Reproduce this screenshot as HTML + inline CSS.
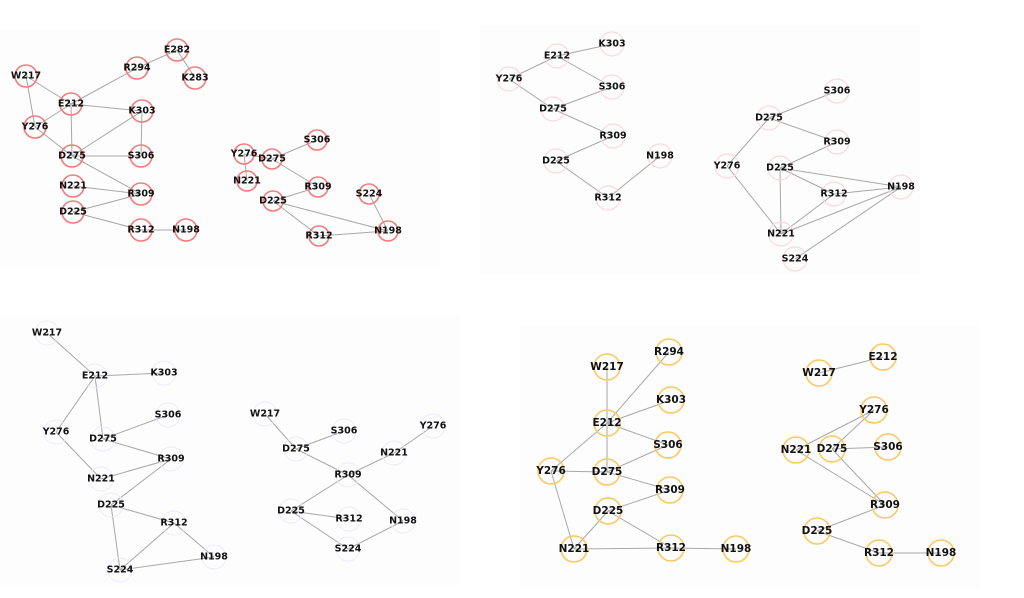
<!DOCTYPE html>
<html><head><meta charset="utf-8"><style>
html,body{margin:0;padding:0;background:#fff}
svg{display:block}
text{font-family:"DejaVu Sans","Liberation Sans",sans-serif;font-weight:bold;font-size:9.5px;fill:#111;text-anchor:middle;dominant-baseline:central}
</style></head><body>
<svg id="s" width="1024" height="598" viewBox="0 0 1024 598">
<rect x="0" y="30" width="440" height="240" fill="#fdfdfd"/>
<rect x="480" y="25" width="440" height="250" fill="#fdfdfd"/>
<rect x="0" y="315" width="460" height="270" fill="#fdfdfd"/>
<rect x="520" y="325" width="460" height="265" fill="#fdfdfd"/>
<g id="edges"></g><g id="circles"></g>
<g id="labels">
<text id="a-W217" x="26" y="76">W217</text>
<text id="a-E282" x="177" y="50">E282</text>
<text id="a-R294" x="137" y="68">R294</text>
<text id="a-K283" x="195" y="78">K283</text>
<text id="a-E212" x="71" y="104">E212</text>
<text id="a-K303" x="142" y="111">K303</text>
<text id="a-Y276" x="35" y="127">Y276</text>
<text id="a-D275" x="72" y="156">D275</text>
<text id="a-S306" x="141" y="156">S306</text>
<text id="a-N221" x="73" y="186">N221</text>
<text id="a-R309" x="141" y="194">R309</text>
<text id="a-D225" x="73" y="212">D225</text>
<text id="a-R312" x="141" y="230">R312</text>
<text id="a-N198" x="186" y="230">N198</text>
<text id="b-Y276" x="244" y="154">Y276</text>
<text id="b-D275" x="272" y="159">D275</text>
<text id="b-S306" x="317" y="140">S306</text>
<text id="b-N221" x="247" y="181">N221</text>
<text id="b-R309" x="318" y="187">R309</text>
<text id="b-D225" x="273" y="201">D225</text>
<text id="b-S224" x="369" y="194">S224</text>
<text id="b-R312" x="319" y="236">R312</text>
<text id="b-N198" x="388" y="231">N198</text>
<text id="c-E212" x="557" y="56">E212</text>
<text id="c-K303" x="612" y="44">K303</text>
<text id="c-Y276" x="509" y="79">Y276</text>
<text id="c-S306" x="612" y="87">S306</text>
<text id="c-D275" x="553" y="109">D275</text>
<text id="c-R309" x="613" y="136">R309</text>
<text id="c-D225" x="556" y="161">D225</text>
<text id="c-N198" x="660" y="156">N198</text>
<text id="c-R312" x="608" y="198">R312</text>
<text id="d-S306" x="837" y="91">S306</text>
<text id="d-D275" x="769" y="118">D275</text>
<text id="d-R309" x="837" y="142">R309</text>
<text id="d-Y276" x="727" y="166">Y276</text>
<text id="d-D225" x="780" y="168">D225</text>
<text id="d-N198" x="901" y="187">N198</text>
<text id="d-R312" x="834" y="194">R312</text>
<text id="d-N221" x="781" y="234">N221</text>
<text id="d-S224" x="795" y="259">S224</text>
<text id="e-W217" x="47" y="333">W217</text>
<text id="e-E212" x="95" y="376">E212</text>
<text id="e-K303" x="164" y="373">K303</text>
<text id="e-S306" x="168" y="415">S306</text>
<text id="e-Y276" x="56" y="432">Y276</text>
<text id="e-D275" x="103" y="439">D275</text>
<text id="e-R309" x="171" y="459">R309</text>
<text id="e-N221" x="101" y="479">N221</text>
<text id="e-D225" x="111" y="505">D225</text>
<text id="e-R312" x="174" y="523">R312</text>
<text id="e-N198" x="214" y="557">N198</text>
<text id="e-S224" x="120" y="570">S224</text>
<text id="f-W217" x="265" y="414">W217</text>
<text id="f-S306" x="344" y="431">S306</text>
<text id="f-Y276" x="433" y="426">Y276</text>
<text id="f-D275" x="296" y="449">D275</text>
<text id="f-N221" x="394" y="453">N221</text>
<text id="f-R309" x="348" y="475">R309</text>
<text id="f-D225" x="291" y="511">D225</text>
<text id="f-R312" x="349" y="519">R312</text>
<text id="f-N198" x="403" y="521">N198</text>
<text id="f-S224" x="348" y="549">S224</text>
<text id="g-W217" x="607" y="367" style="font-size:10.5px">W217</text>
<text id="g-R294" x="669" y="352" style="font-size:10.5px">R294</text>
<text id="g-K303" x="671" y="400" style="font-size:10.5px">K303</text>
<text id="g-E212" x="607" y="423" style="font-size:10.5px">E212</text>
<text id="g-S306" x="668" y="445" style="font-size:10.5px">S306</text>
<text id="g-Y276" x="551" y="471" style="font-size:10.5px">Y276</text>
<text id="g-D275" x="607" y="472" style="font-size:10.5px">D275</text>
<text id="g-R309" x="670" y="490" style="font-size:10.5px">R309</text>
<text id="g-D225" x="608" y="511" style="font-size:10.5px">D225</text>
<text id="g-N221" x="574" y="549" style="font-size:10.5px">N221</text>
<text id="g-R312" x="671" y="548" style="font-size:10.5px">R312</text>
<text id="g-N198" x="736" y="549" style="font-size:10.5px">N198</text>
<text id="h-E212" x="883" y="357" style="font-size:10.5px">E212</text>
<text id="h-W217" x="819" y="373" style="font-size:10.5px">W217</text>
<text id="h-Y276" x="874" y="410" style="font-size:10.5px">Y276</text>
<text id="h-N221" x="796" y="450" style="font-size:10.5px">N221</text>
<text id="h-D275" x="832" y="449" style="font-size:10.5px">D275</text>
<text id="h-S306" x="888" y="447" style="font-size:10.5px">S306</text>
<text id="h-R309" x="885" y="505" style="font-size:10.5px">R309</text>
<text id="h-D225" x="817" y="531" style="font-size:10.5px">D225</text>
<text id="h-R312" x="879" y="553" style="font-size:10.5px">R312</text>
<text id="h-N198" x="941" y="553" style="font-size:10.5px">N198</text>
</g>
</svg>
<script>
var P={
a:{r:11,c:"#f47a7a",w:1.6,e:"W217-E212 W217-Y276 E212-R294 R294-E282 E282-K283 E212-K303 E212-Y276 E212-D275 Y276-D275 D275-K303 D275-S306 K303-S306 D275-R309 N221-R309 D225-R309 D225-R312 R312-N198"},
b:{r:10,c:"#f47a7a",w:1.6,e:"Y276-D275 Y276-N221 D275-S306 D275-R309 R309-D225 D225-N198 D225-R312 R312-N198 S224-N198"},
c:{r:12,c:"#fbd9de",w:1.2,e:"E212-K303 E212-Y276 E212-S306 Y276-D275 D275-S306 D275-R309 R309-D225 D225-R312 R312-N198"},
d:{r:12,c:"#fbd9de",w:1.2,e:"D275-S306 D275-R309 D275-Y276 Y276-N221 R309-D225 D225-N198 D225-R312 D225-N221 R312-N198 R312-N221 N221-N198 N198-S224"},
e:{r:12,c:"#ececfb",w:1,e:"W217-E212 E212-K303 E212-Y276 E212-D275 D275-S306 D275-R309 Y276-N221 N221-R309 R309-D225 D225-R312 D225-S224 R312-S224 R312-N198 S224-N198"},
f:{r:12,c:"#ececfb",w:1,e:"W217-D275 D275-S306 D275-R309 R309-N221 N221-Y276 R309-D225 R309-N198 D225-R312 D225-S224 S224-N198"},
g:{r:13,c:"#fcc862",w:1.6,e:"W217-E212 E212-D275 E212-R294 E212-K303 E212-S306 E212-Y276 Y276-D275 Y276-N221 D275-S306 D275-R309 D225-R309 D225-N221 D225-R312 N221-R312 R312-N198"},
h:{r:13,c:"#fcc862",w:1.6,e:"W217-E212 Y276-N221 Y276-D275 D275-S306 N221-R309 D275-R309 R309-D225 D225-R312 R312-N198"}
};
var NS="http://www.w3.org/2000/svg",E=document.getElementById("edges"),C=document.getElementById("circles");
function pt(id){var t=document.getElementById(id);return [+t.getAttribute("x"),+t.getAttribute("y")];}
for(var k in P){var p=P[k];
p.e.split(" ").forEach(function(s){var ab=s.split("-"),a=pt(k+"-"+ab[0]),b=pt(k+"-"+ab[1]);
var l=document.createElementNS(NS,"line");l.setAttribute("x1",a[0]);l.setAttribute("y1",a[1]);l.setAttribute("x2",b[0]);l.setAttribute("y2",b[1]);
l.setAttribute("stroke","#a8a8a8");l.setAttribute("stroke-width","1");E.appendChild(l);});
document.querySelectorAll('text[id^="'+k+'-"]').forEach(function(t){var c=document.createElementNS(NS,"circle");
c.setAttribute("cx",t.getAttribute("x"));c.setAttribute("cy",t.getAttribute("y"));c.setAttribute("r",p.r);
c.setAttribute("fill","none");c.setAttribute("stroke",p.c);c.setAttribute("stroke-width",p.w);C.appendChild(c);});
}
</script>
</body></html>
